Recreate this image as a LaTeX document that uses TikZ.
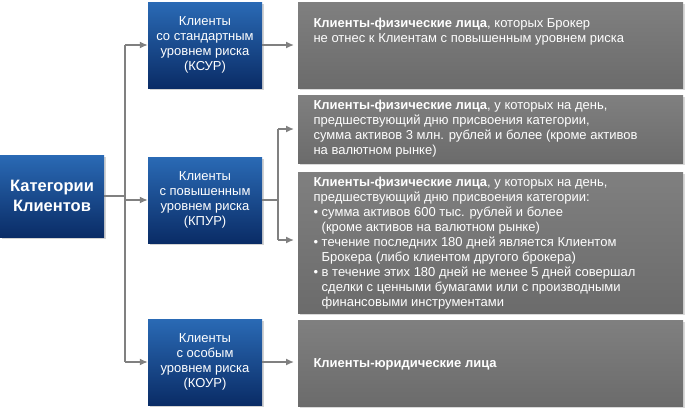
\documentclass[tikz,border=0pt]{standalone}
\usepackage{fontspec}
\setmainfont{Liberation Sans}
\usetikzlibrary{arrows.meta,shadows}
\definecolor{btop}{HTML}{2A6AB5}
\definecolor{bbot}{HTML}{0A2C66}
\tikzset{
 bluebox/.style={draw=none,top color=btop,bottom color=bbot,
   text=white,align=center,inner sep=0pt,drop shadow={opacity=0.35,shadow xshift=2pt,shadow yshift=-2pt}},
 graybox/.style={draw=none,top color=black!50,bottom color=black!58,text=white,align=left,inner sep=0pt,
   anchor=north west,drop shadow={opacity=0.3,shadow xshift=2pt,shadow yshift=-2pt}},
 conn/.style={draw=black!50,line width=1.4pt,-{Latex[length=8pt,width=7pt]}},
 trunk/.style={draw=black!50,line width=1.4pt}
}
\begin{document}
\begin{tikzpicture}[x=1pt,y=-1pt,font=\fontsize{13}{15}\selectfont]
\useasboundingbox (0,0) rectangle (685,408);
\node[bluebox,minimum width=104,minimum height=82,font=\fontsize{16.5}{20}\bfseries] (cat) at (52,196) {Категории\\Клиентов};
\node[bluebox,minimum width=114,minimum height=86] (ksur) at (205,45) {Клиенты\\со стандартным\\уровнем риска\\(КСУР)};
\node[bluebox,minimum width=114,minimum height=86] (kpur) at (205,200) {Клиенты\\с повышенным\\уровнем риска\\(КПУР)};
\node[bluebox,minimum width=114,minimum height=86] (kour) at (205,362) {Клиенты\\с особым\\уровнем риска\\(КОУР)};
\node[graybox,minimum width=385,minimum height=86] (r1) at (298,2) {};
\node[anchor=north west,text=white,align=left] at (310,15) {\textbf{Клиенты-физические лица}, которых Брокер\\не отнес к Клиентам с повышенным уровнем риска};
\node[graybox,minimum width=385,minimum height=68] (r2) at (298,95) {};
\node[anchor=north west,text=white,align=left] at (310,97) {\textbf{Клиенты-физические лица}, у которых на день,\\предшествующий дню присвоения категории,\\сумма активов 3 млн. рублей и более (кроме активов\\на валютном рынке)};
\node[graybox,minimum width=385,minimum height=141] (r3) at (298,172) {};
\node[anchor=north west,text=white,align=left] at (310,174) {\textbf{Клиенты-физические лица}, у которых на день,\\предшествующий дню присвоения категории:\\• сумма активов 600 тыс. рублей и более\\\phantom{• }(кроме активов на валютном рынке)\\• течение последних 180 дней являeтся Клиентом\\\phantom{• }Брокера (либо клиентом другого брокера)\\• в течение этих 180 дней не менее 5 дней совершал\\\phantom{• }сделки с ценными бумагами или с производными\\\phantom{• }финансовыми инструментами};
\node[graybox,minimum width=385,minimum height=86] (r4) at (298,320) {};
\node[anchor=west,text=white,font=\fontsize{13}{15}\bfseries] at (310,364) {Клиенты-юридические лица};
\coordinate (t1) at (125,45); \coordinate (t2) at (125,362);
\draw[trunk] (cat.east) -- (125,196);
\draw[trunk] (t1) -- (t2);
\draw[conn] (t1) -- (ksur.west);
\draw[conn] (125,200) -- (kpur.west);
\draw[conn] (t2) -- (kour.west);
\draw[conn] (ksur.east) -- (294,45);
\draw[conn] (kour.east) -- (294,362);
\draw[trunk] (kpur.east) -- (278,200);
\draw[trunk] (278,129) -- (278,240);
\draw[conn] (278,129) -- (294,129);
\draw[conn] (278,240) -- (294,240);
\end{tikzpicture}
\end{document}
